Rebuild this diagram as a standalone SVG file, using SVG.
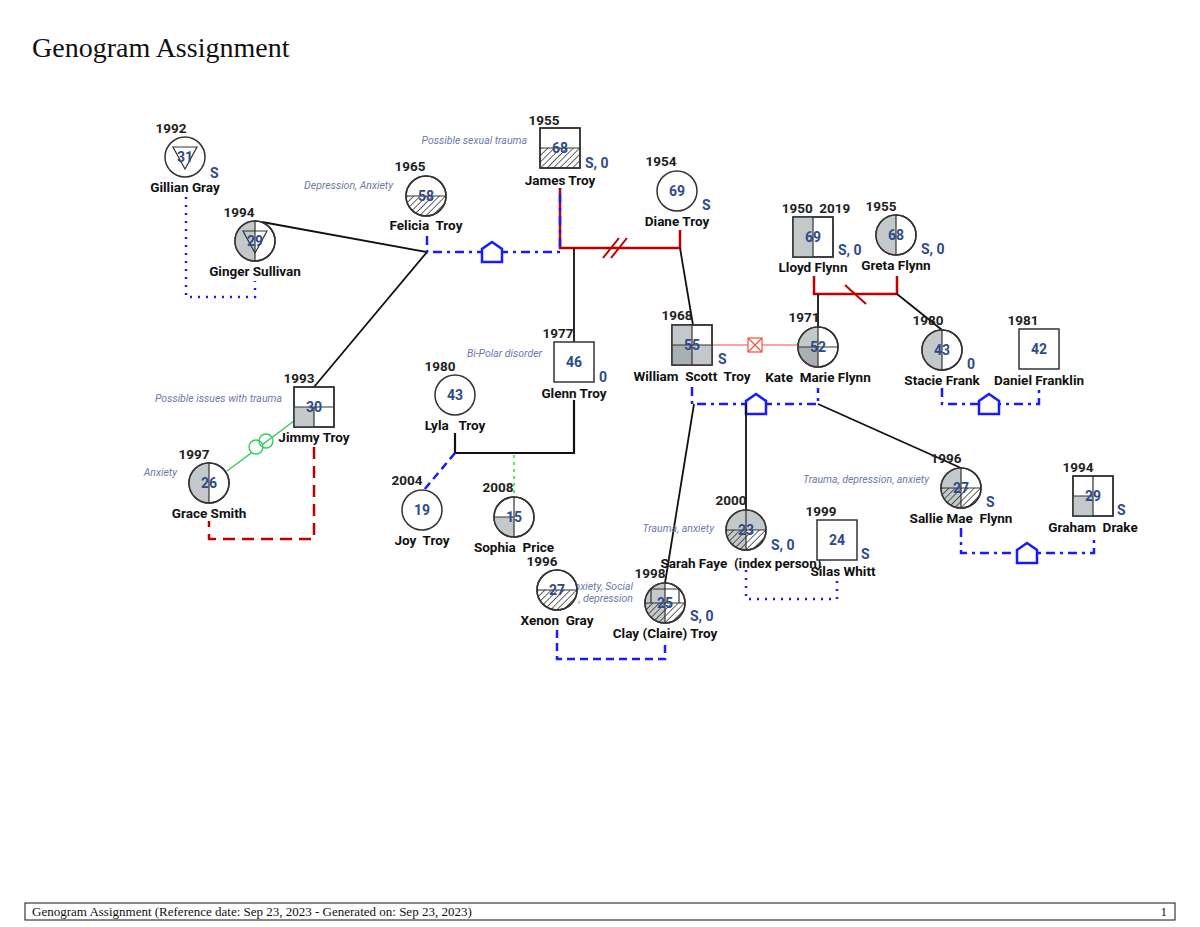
<svg xmlns="http://www.w3.org/2000/svg" width="1200" height="927" viewBox="0 0 1200 927">
<style>
.sh{fill:#fff;stroke:#333;stroke-width:1.5}
.ln{fill:none;stroke:#333;stroke-width:1.2}
.g{fill:#c3c9ca}
.gd{fill:#a9b0b1}
.h{fill:url(#hatch)}
text{font-family:Roboto,"Liberation Sans",sans-serif;white-space:pre}
.yr{font-size:13.5px;font-weight:bold;fill:#222;text-anchor:middle}
.nm{font-size:13.5px;font-weight:bold;fill:#111;text-anchor:middle}
.age{font-size:14px;font-weight:bold;fill:#2e4a8a;text-anchor:middle}
.sv{font-size:14px;font-weight:bold;fill:#2e4a8a}
.ann{font-size:10.5px;font-style:italic;fill:#6b7ba8;text-anchor:end}
.blk{fill:none;stroke:#111;stroke-width:1.8}
.dd{fill:none;stroke:#1a1aff;stroke-width:2.5;stroke-dasharray:9 5 3 5}
.dot{fill:none;stroke:#1a1aff;stroke-width:2.5;stroke-dasharray:2 6}
.dash{fill:none;stroke:#1a1aff;stroke-width:2.5;stroke-dasharray:8 5}
.red{fill:none;stroke:#c00000;stroke-width:2.5}
.house{fill:#fff;stroke:#1a1aff;stroke-width:2.5}
</style>
<defs>
<pattern id="hatch" patternUnits="userSpaceOnUse" width="4.5" height="4.5" patternTransform="rotate(45)">
<line x1="0" y1="0" x2="0" y2="4.5" stroke="#222" stroke-width="1.4"/>
</pattern>
<polygon id="hs" class="house" points="-10,10 -10,-3 0,-10 10,-3 10,10"/>
</defs>
<rect width="1200" height="927" fill="#fff"/>
<text x="32" y="57" style="font-family:'Liberation Serif',serif;font-size:28px;fill:#111">Genogram Assignment</text>

<g id="connectors">
<polyline class="dot" points="186,197 186,297 255,297 255,281"/>
<polyline class="blk" points="262,222 427,252 314,387"/>
<polyline class="red" points="560,188 560,248 680,248 680,230"/>
<polyline class="dd" points="427,236 427,252 560,252 560,188"/>
<line x1="603" y1="258" x2="619" y2="238" stroke="#c00000" stroke-width="2"/>
<line x1="611" y1="258" x2="627" y2="238" stroke="#c00000" stroke-width="2"/>
<line class="blk" x1="574" y1="248" x2="574" y2="342"/>
<line class="blk" x1="680" y1="248" x2="693" y2="325"/>
<polyline class="blk" points="455,433 455,453 574,453 574,400" style="stroke-width:2.2"/>
<line class="dash" x1="455" y1="453" x2="424" y2="490"/>
<line x1="514" y1="455" x2="514" y2="497" stroke="#22dd22" stroke-width="1.5" stroke-dasharray="3 4"/>
<line x1="294" y1="421" x2="227" y2="471" stroke="#2ecc55" stroke-width="1.3"/>
<circle cx="256" cy="447" r="7" fill="#fff" stroke="#2ecc55" stroke-width="1.3"/>
<circle cx="266" cy="441" r="7" fill="none" stroke="#2ecc55" stroke-width="1.3"/>
<polyline points="314,447 314,539 209,539 209,521" fill="none" stroke="#c00000" stroke-width="2.5" stroke-dasharray="12 7"/>
<line x1="712" y1="345" x2="798" y2="345" stroke="#f05040" stroke-width="1.2"/>
<rect x="748" y="338" width="14" height="14" fill="#fff" stroke="#f05040" stroke-width="1.2"/>
<path d="M748,338 L762,352 M762,338 L748,352" stroke="#f05040" stroke-width="1.2"/>
<polyline class="red" points="814,276 814,294 897,294 897,276"/>
<line x1="845" y1="285" x2="866" y2="304" stroke="#c00000" stroke-width="2"/>
<line class="blk" x1="818" y1="294" x2="818" y2="327"/>
<line class="blk" x1="897" y1="294" x2="942" y2="330"/>
<polyline class="dd" points="942,388 942,404 1039,404 1039,388"/>
<use href="#hs" x="989" y="404"/>
<polyline class="dd" points="692,387 692,404 818,404 818,388"/>
<use href="#hs" x="756" y="404"/>
<use href="#hs" x="492" y="252"/>
<line class="blk" x1="746" y1="404" x2="746" y2="510"/>
<line class="blk" x1="694" y1="404" x2="665" y2="583"/>
<line class="blk" x1="818" y1="404" x2="961" y2="468"/>
<polyline class="dot" points="746,570 746,599 837,599 837,580"/>
<polyline class="dd" points="961,528 961,553 1094,553 1094,535"/>
<use href="#hs" x="1027" y="553"/>
<polyline class="dash" points="557,630 557,659 665,659 665,642"/>
</g>

<text class="ann" x="527" y="144">Possible sexual trauma</text>
<text class="ann" x="393" y="189">Depression, Anxiety</text>
<text class="ann" x="542" y="357">Bi-Polar disorder</text>
<text class="ann" x="282" y="402">Possible issues with trauma</text>
<text class="ann" x="177" y="476">Anxiety</text>
<text class="ann" x="714" y="532">Trauma, anxiety</text>
<text class="ann" x="929" y="483">Trauma, depression, anxiety</text>
<text class="ann" x="633" y="590">nxiety, Social</text>
<text class="ann" x="633" y="602">, depression</text>

<g id="gillian" transform="translate(185,157)">
<circle class="sh" r="20"/><polygon class="ln" points="-12,-10 12,-10 0,12"/>
<text class="age" y="5">31</text><text class="yr" x="-14" y="-24">1992</text>
<text class="sv" x="25" y="21">S</text><text class="nm" y="35">Gillian Gray</text>
</g>
<g id="ginger" transform="translate(255,241)">
<circle class="sh" r="20"/><path class="g" d="M0,-20 A20,20 0 0 0 0,20 Z"/><line class="ln" x1="0" y1="-20" x2="0" y2="20"/><circle r="20" fill="none" stroke="#333" stroke-width="1.5"/>
<polygon class="ln" points="-12,-10 12,-10 0,12"/>
<text class="age" y="5">29</text><text class="yr" x="-16" y="-24">1994</text>
<text class="nm" y="35">Ginger Sullivan</text>
</g>
<g id="felicia" transform="translate(426,196)">
<circle class="sh" r="20"/><path class="h" d="M-20,0 A20,20 0 0 0 20,0 Z"/><line class="ln" x1="-20" y1="0" x2="20" y2="0"/><circle r="20" fill="none" stroke="#333" stroke-width="1.5"/>
<text class="age" y="5">58</text><text class="yr" x="-16" y="-25">1965</text>
<text class="nm" y="34">Felicia  Troy</text>
</g>
<g id="james" transform="translate(560,148)">
<rect class="sh" x="-20" y="-20" width="40" height="40"/><rect class="h" x="-20" y="0" width="40" height="20"/><line class="ln" x1="-20" y1="0" x2="20" y2="0"/><rect x="-20" y="-20" width="40" height="40" fill="none" stroke="#333" stroke-width="1.5"/>
<text class="age" y="5">68</text><text class="yr" x="-16" y="-23">1955</text>
<text class="sv" x="25" y="20">S, 0</text><text class="nm" y="37">James Troy</text>
</g>
<g id="diane" transform="translate(677,191)">
<circle class="sh" r="20"/><text class="age" y="5">69</text><text class="yr" x="-16" y="-25">1954</text>
<text class="sv" x="25" y="19">S</text><text class="nm" y="35">Diane Troy</text>
</g>
<g id="lloyd" transform="translate(813,237)">
<rect class="sh" x="-20" y="-20" width="40" height="40"/><rect class="g" x="-20" y="-20" width="20" height="40"/><line class="ln" x1="0" y1="-20" x2="0" y2="20"/><rect x="-20" y="-20" width="40" height="40" fill="none" stroke="#333" stroke-width="1.5"/>
<text class="age" y="5">69</text><text class="yr" x="3" y="-24">1950  2019</text>
<text class="sv" x="25" y="18">S, 0</text><text class="nm" y="35">Lloyd Flynn</text>
</g>
<g id="greta" transform="translate(896,235)">
<circle class="sh" r="20"/><path class="g" d="M0,-20 A20,20 0 0 0 0,20 Z"/><line class="ln" x1="0" y1="-20" x2="0" y2="20"/><circle r="20" fill="none" stroke="#333" stroke-width="1.5"/>
<text class="age" y="5">68</text><text class="yr" x="-15" y="-24">1955</text>
<text class="sv" x="25" y="19">S, 0</text><text class="nm" y="35">Greta Flynn</text>
</g>
<g id="william" transform="translate(692,345)">
<rect class="sh" x="-20" y="-20" width="40" height="40"/><rect class="g" x="-20" y="-20" width="20" height="20"/><rect class="gd" x="-20" y="0" width="20" height="20"/><rect class="g" x="0" y="0" width="20" height="20"/>
<path class="ln" d="M0,-20 V20 M-20,0 H20"/><rect x="-20" y="-20" width="40" height="40" fill="none" stroke="#333" stroke-width="1.5"/>
<text class="age" y="5">55</text><text class="yr" x="-15" y="-25">1968</text>
<text class="sv" x="26" y="19">S</text><text class="nm" y="36">William  Scott  Troy</text>
</g>
<g id="kate" transform="translate(818,347)">
<circle class="sh" r="20"/><path class="g" d="M0,0 L0,-20 A20,20 0 0 0 -20,0 Z"/><path class="gd" d="M0,0 L-20,0 A20,20 0 0 0 0,20 Z"/>
<path class="ln" d="M0,-20 V20 M-20,0 H20"/><circle r="20" fill="none" stroke="#333" stroke-width="1.5"/>
<text class="age" y="5">52</text><text class="yr" x="-14" y="-25">1971</text>
<text class="nm" y="35">Kate  Marie Flynn</text>
</g>
<g id="stacie" transform="translate(942,350)">
<circle class="sh" r="20"/><path class="g" d="M0,-20 A20,20 0 0 0 0,20 Z"/><line class="ln" x1="0" y1="-20" x2="0" y2="20"/><circle r="20" fill="none" stroke="#333" stroke-width="1.5"/>
<text class="age" y="5">43</text><text class="yr" x="-14" y="-25">1980</text>
<text class="sv" x="25" y="19">0</text><text class="nm" y="35">Stacie Frank</text>
</g>
<g id="daniel" transform="translate(1039,349)">
<rect class="sh" x="-20" y="-20" width="40" height="40"/><text class="age" y="5">42</text><text class="yr" x="-16" y="-24">1981</text>
<text class="nm" y="36">Daniel Franklin</text>
</g>
<g id="jimmy" transform="translate(314,407)">
<rect class="sh" x="-20" y="-20" width="40" height="40"/><rect class="g" x="-20" y="0" width="20" height="20"/>
<path class="ln" d="M0,0 V20 M-20,0 H20"/><rect x="-20" y="-20" width="40" height="40" fill="none" stroke="#333" stroke-width="1.5"/>
<text class="age" y="5">30</text><text class="yr" x="-15" y="-24">1993</text>
<text class="nm" y="35">Jimmy Troy</text>
</g>
<g id="grace" transform="translate(209,483)">
<circle class="sh" r="20"/><path class="g" d="M0,-20 A20,20 0 0 0 0,20 Z"/><line class="ln" x1="0" y1="-20" x2="0" y2="20"/><circle r="20" fill="none" stroke="#333" stroke-width="1.5"/>
<text class="age" y="5">26</text><text class="yr" x="-15" y="-24">1997</text>
<text class="nm" y="35">Grace Smith</text>
</g>
<g id="lyla" transform="translate(455,395)">
<circle class="sh" r="20"/><text class="age" y="5">43</text><text class="yr" x="-15" y="-24">1980</text>
<text class="nm" y="35">Lyla   Troy</text>
</g>
<g id="glenn" transform="translate(574,362)">
<rect class="sh" x="-20" y="-20" width="40" height="40"/><text class="age" y="5">46</text><text class="yr" x="-16" y="-24">1977</text>
<text class="sv" x="25" y="20">0</text><text class="nm" y="36">Glenn Troy</text>
</g>
<g id="joy" transform="translate(422,510)">
<circle class="sh" r="20"/><text class="age" y="5">19</text><text class="yr" x="-15" y="-25">2004</text>
<text class="nm" y="35">Joy  Troy</text>
</g>
<g id="sophia" transform="translate(514,517)">
<circle class="sh" r="20"/><path class="g" d="M0,0 L-20,0 A20,20 0 0 0 0,20 Z"/>
<path class="ln" d="M0,-20 V20 M-20,0 H0"/><circle r="20" fill="none" stroke="#333" stroke-width="1.5"/>
<text class="age" y="5">15</text><text class="yr" x="-16" y="-25">2008</text>
<text class="nm" y="35">Sophia  Price</text>
</g>
<g id="xenon" transform="translate(557,590)">
<circle class="sh" r="20"/><path class="h" d="M-20,0 A20,20 0 0 0 20,0 Z"/><line class="ln" x1="-20" y1="0" x2="20" y2="0"/><circle r="20" fill="none" stroke="#333" stroke-width="1.5"/>
<text class="age" y="5">27</text><text class="yr" x="-15" y="-24">1996</text>
<text class="nm" y="35">Xenon  Gray</text>
</g>
<g id="clay" transform="translate(665,603)">
<circle class="sh" r="20"/><path class="g" d="M0,0 L0,-20 A20,20 0 0 0 -20,0 Z"/><path class="g" d="M0,0 L-20,0 A20,20 0 0 0 0,20 Z"/>
<path class="h" d="M0,0 L-20,0 A20,20 0 0 0 20,0 Z"/>
<path class="ln" d="M0,-20 V20 M-20,0 H20 M-14,-14 V0 M14,-14 V0 M-14,-14 H14"/><circle r="20" fill="none" stroke="#333" stroke-width="1.5"/>
<text class="age" y="5">25</text><text class="yr" x="-15" y="-25">1998</text>
<text class="sv" x="25" y="18">S, 0</text><text class="nm" y="35">Clay (Claire) Troy</text>
</g>
<g id="sarah" transform="translate(746,530)">
<circle class="sh" r="20"/><path class="g" d="M-20,0 A20,20 0 0 1 20,0 Z"/><path class="g" d="M0,0 L-20,0 A20,20 0 0 0 0,20 Z"/>
<path class="h" d="M-20,0 A20,20 0 0 0 20,0 Z"/>
<path class="ln" d="M0,-20 V20 M-20,0 H20"/><circle r="20" fill="none" stroke="#333" stroke-width="1.5"/>
<text class="age" y="5">23</text><text class="yr" x="-15" y="-25">2000</text>
<text class="sv" x="25" y="20">S, 0</text><text class="nm" x="-5" y="38">Sarah Faye  (index person)</text>
</g>
<g id="silas" transform="translate(837,540)">
<rect class="sh" x="-20" y="-20" width="40" height="40"/><text class="age" y="5">24</text><text class="yr" x="-16" y="-24">1999</text>
<text class="sv" x="24" y="19">S</text><text class="nm" x="6" y="36">Silas Whitt</text>
</g>
<g id="sallie" transform="translate(961,488)">
<circle class="sh" r="20"/><path class="g" d="M0,0 L0,-20 A20,20 0 0 0 -20,0 Z"/><path class="g" d="M0,0 L-20,0 A20,20 0 0 0 0,20 Z"/>
<path class="h" d="M-20,0 A20,20 0 0 0 20,0 Z"/>
<path class="ln" d="M0,-20 V20 M-20,0 H20"/><circle r="20" fill="none" stroke="#333" stroke-width="1.5"/>
<text class="age" y="5">27</text><text class="yr" x="-15" y="-25">1996</text>
<text class="sv" x="25" y="19">S</text><text class="nm" y="35">Sallie Mae  Flynn</text>
</g>
<g id="graham" transform="translate(1093,496)">
<rect class="sh" x="-20" y="-20" width="40" height="40"/><rect class="g" x="-20" y="0" width="20" height="20"/>
<path class="ln" d="M0,-20 V20 M-20,0 H0"/><rect x="-20" y="-20" width="40" height="40" fill="none" stroke="#333" stroke-width="1.5"/>
<text class="age" y="5">29</text><text class="yr" x="-15" y="-24">1994</text>
<text class="sv" x="24" y="19">S</text><text class="nm" y="36">Graham  Drake</text>
</g>

<rect x="25" y="903" width="1150" height="17" fill="none" stroke="#111" stroke-width="1"/>
<text x="32" y="916" style="font-family:'Liberation Serif',serif;font-size:13px;fill:#111">Genogram Assignment (Reference date: Sep 23, 2023 - Generated on: Sep 23, 2023)</text>
<text x="1167" y="916" style="font-family:'Liberation Serif',serif;font-size:13px;fill:#111;text-anchor:end">1</text>
</svg>
